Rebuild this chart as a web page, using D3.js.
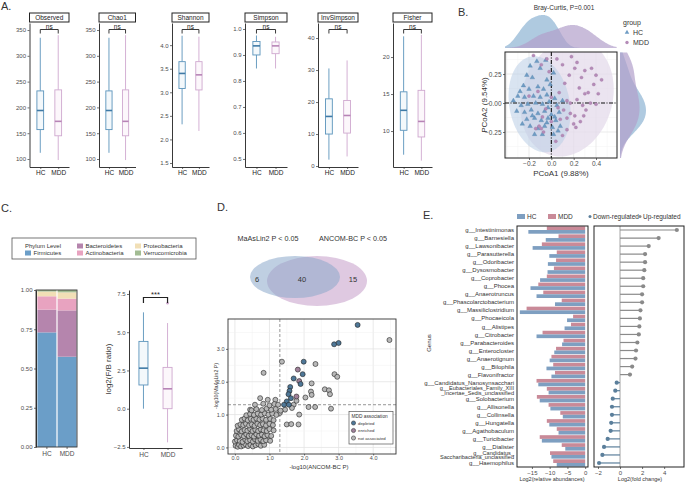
<!DOCTYPE html>
<html>
<head>
<meta charset="utf-8">
<script src="https://cdn.jsdelivr.net/npm/d3@7"></script>
<style>
  body { margin: 0; background: #fff; }
  svg { display: block; font-family: "Liberation Sans", Arial, sans-serif; }
</style>
</head>
<body>
<svg id="fig" width="685" height="484"></svg>
<script>
// ---------------- data ----------------
const groups = ['HC', 'MDD'];

// A. alpha diversity: [lower whisker, Q1, median, Q3, upper whisker]
const alphaNames = ['Observed', 'Chao1', 'Shannon', 'Simpson', 'InvSimpson', 'Fisher'];
const alphaHC = [
    [112, 157, 194, 232, 335],
    [112, 157, 194, 232, 335],
    [2.32, 3.08, 3.4, 3.65, 4.2],
    [0.848, 0.9, 0.935, 0.952, 0.975],
    [2, 10, 15.5, 21, 30.5],
    [6.8, 10.1, 12.8, 15.3, 22.8]
];
const alphaMDD = [
    [98, 145, 173, 234, 340],
    [98, 145, 173, 234, 340],
    [2.18, 3.05, 3.37, 3.65, 4.18],
    [0.848, 0.905, 0.935, 0.95, 0.97],
    [3, 10.3, 15.8, 20.5, 33],
    [6, 9.2, 11.3, 15.5, 23]
];
const alphaTicks = [
    [100, 150, 200, 250, 300, 350],
    [100, 150, 200, 250, 300, 350],
    [1.5, 2.0, 2.5, 3.0, 3.5, 4.0],
    [0.5, 0.6, 0.7, 0.8, 0.9, 1.0],
    [0, 10, 20, 30, 40],
    [10, 15, 20]
];
const alphaTest = ['ns', 'ns', 'ns', 'ns', 'ns', 'ns'];

// B. PCoA on Bray-Curtis
const pcoaHC = [
    [-0.13,0.36],[-0.05,0.37],[-0.19,0.32],[-0.10,0.30],[-0.22,0.24],[-0.17,0.22],[-0.04,0.20],
    [-0.25,0.15],[-0.28,0.10],[-0.20,0.12],[-0.12,0.14],[-0.07,0.12],[-0.01,0.16],[0.02,0.26],
    [-0.30,0.06],[-0.24,0.05],[-0.16,0.06],[-0.10,0.05],[-0.04,0.07],[0.03,0.04],[-0.27,-0.02],
    [-0.21,-0.01],[-0.14,0.00],[-0.08,-0.01],[-0.02,0.01],[0.05,-0.02],[-0.31,-0.07],[-0.24,-0.08],
    [-0.18,-0.06],[-0.12,-0.09],[-0.06,-0.07],[0.00,-0.10],[-0.22,-0.14],[-0.15,-0.13],[-0.09,-0.15],
    [-0.03,-0.13],[0.04,-0.15],[-0.19,-0.20],[-0.12,-0.22],[-0.06,-0.20],[0.01,-0.21],[0.06,-0.24],
    [-0.15,-0.27],[-0.08,-0.27],[0.02,-0.27],[0.08,-0.20],[0.10,0.02],[-0.34,0.02],[-0.03,-0.04],[0.07,-0.08],
    [-0.26,-0.18],[-0.04,-0.17],[0.03,-0.12],[-0.17,-0.11]
];
const pcoaMDD = [
    [-0.16,0.41],[-0.04,0.38],[0.05,0.38],[0.23,0.35],[0.21,0.30],[0.45,0.20],[0.33,0.09],[0.30,0.08],
    [0.42,0.08],[0.23,0.03],[0.14,0.02],[0.17,0.00],[0.35,0.00],[0.40,-0.01],[0.28,-0.02],[0.11,-0.06],
    [0.17,-0.09],[0.21,-0.11],[0.29,-0.11],[0.14,-0.13],[0.08,-0.14],[0.20,-0.18],[0.22,-0.21],[0.14,-0.23],
    [0.10,-0.28],[0.04,-0.33],[-0.11,-0.20],[-0.09,-0.22],[-0.14,-0.22],[-0.07,-0.25],[0.00,-0.16],
    [-0.05,-0.05],[0.07,0.09],[0.12,0.17],[-0.02,0.27],[0.25,0.13],[0.38,0.16],[0.31,-0.06],[-0.20,0.06],
    [-0.12,0.10],[0.00,0.05],[0.16,0.24],[-0.08,-0.12],[0.06,-0.04],[0.26,-0.16],
    [0.10,0.33],[0.30,0.28],[0.18,0.40],[0.36,0.30],[0.27,0.22],[-0.09,0.33],[0.40,0.24]
];
const pcoaTicksX = [-0.2, 0, 0.2, 0.4];
const pcoaTicksY = [-0.25, 0, 0.25];

// C. phylum composition and F/B ratio
const phyla = ['Firmicutes', 'Bacteroidetes', 'Actinobacteria', 'Proteobacteria', 'Verrucomicrobia'];
const phylaHC = [0.73, 0.145, 0.085, 0.03, 0.01];
const phylaMDD = [0.575, 0.295, 0.075, 0.04, 0.015];
const phylaTicks = [0, 0.25, 0.5, 0.75, 1];
const fbHC = [0.0, 1.55, 2.65, 4.4, 6.3];
const fbMDD = [-2.2, 0.0, 1.3, 2.7, 5.6];
const fbOutMDD = [6.9];
const fbTicks = [-2.5, 0, 2.5, 5, 7.5];

// D. MaAsLin2 vs ANCOM-BC
const vennLabels = ['MaAsLin2 P < 0.05', 'ANCOM-BC P < 0.05'];
const vennCounts = [6, 40, 15];
const dDepleted = [[3.55,3.73],[2.87,3.14],[3.0,3.18],[1.99,2.61],[1.96,2.23],[1.70,2.10],[1.90,1.93],
    [1.60,1.84],[1.58,1.72],[1.55,1.62],[1.62,1.50],[1.50,1.40],[1.42,1.30],[1.56,1.30]];
const dEnriched = [[1.82,2.37],[1.86,2.02],[1.78,1.55]];
const dNotAssoc = [
    [4.47,3.27],[1.36,2.61],[2.33,2.54],[0.83,2.27],[2.22,1.95],[2.88,2.23],[2.96,2.15],[2.60,1.77],
    [2.72,1.74],[2.75,1.62],[2.20,1.70],[2.22,1.60],[2.04,1.52],[0.73,1.50],[0.95,1.45],[1.17,1.45],
    [2.13,1.23],[2.32,1.23],[2.78,1.18],[1.86,1.00],[1.84,0.70],[1.50,0.70],[1.63,0.71],[0.97,0.30],
    [1.70,1.30],[1.78,1.42],[1.65,1.20],[1.45,1.15],[1.30,1.05],[0.44,1.15],
    [0.02,0.05],[0.08,0.02],[0.12,0.08],[0.18,0.03],[0.25,0.06],[0.30,0.10],[0.38,0.04],[0.45,0.08],
    [0.52,0.03],[0.60,0.07],[0.68,0.10],[0.75,0.05],[0.85,0.08],
    [0.00,0.18],[0.06,0.22],[0.14,0.20],[0.22,0.17],[0.30,0.24],[0.36,0.19],[0.44,0.22],[0.52,0.18],
    [0.58,0.25],[0.66,0.20],[0.74,0.24],[0.82,0.19],[0.90,0.22],[1.02,0.20],
    [0.03,0.36],[0.10,0.33],[0.18,0.38],[0.26,0.34],[0.33,0.40],[0.40,0.35],[0.48,0.37],[0.55,0.33],
    [0.62,0.40],[0.70,0.36],[0.78,0.39],[0.86,0.34],[0.94,0.38],[1.05,0.35],
    [0.05,0.50],[0.12,0.55],[0.20,0.49],[0.28,0.53],[0.36,0.51],[0.44,0.56],[0.51,0.50],[0.59,0.54],
    [0.67,0.50],[0.75,0.55],[0.83,0.52],[0.92,0.50],[1.00,0.56],[1.12,0.52],
    [0.08,0.66],[0.16,0.70],[0.24,0.68],[0.32,0.72],[0.41,0.67],[0.49,0.70],[0.57,0.66],[0.65,0.72],
    [0.73,0.68],[0.81,0.71],[0.90,0.67],[1.00,0.72],[1.10,0.68],
    [0.20,0.84],[0.28,0.88],[0.37,0.83],[0.46,0.87],[0.54,0.84],[0.62,0.88],[0.71,0.85],[0.80,0.88],
    [0.90,0.84],[1.02,0.87],[1.12,0.83],
    [0.33,0.98],[0.44,1.02],[0.55,0.99],[0.66,1.03],[0.76,1.00],[0.86,1.04],[0.97,1.00],[1.08,1.03],[1.20,0.99],
    [0.48,1.13],[0.62,1.17],[0.78,1.14],[0.92,1.18],[1.05,1.15],[1.18,1.17],[1.32,1.12],
    [0.58,1.30],[0.82,1.33],[1.00,1.28],[1.14,1.32],[1.25,1.30]
];
const dTicks = [0, 1, 2, 3, 4];
const dTicksY = [0, 1, 2, 3];
const dCut = 1.3;

// E. differential genera
const genera = [
    'g__Intestinimonas', 'g__Barnesiella', 'g__Lawsonibacter', 'g__Parasutterella', 'g__Odoribacter',
    'g__Dysosmobacter', 'g__Coprobacter', 'g__Phocea', 'g__Anaerotruncus', 'g__Phascolarctobacterium',
    'g__Massiliclostridium', 'g__Phocaeicola', 'g__Alistipes', 'g__Citrobacter', 'g__Parabacteroides',
    'g__Enterocloster', 'g__Anaerotignum', 'g__Bilophila', 'g__Flavonifractor', 'g__Candidatus_Nanosynsacchari',
    'g__Eubacteriales_Family_XIII\n_Incertae_Sedis_unclassified', 'g__Solobacterium', 'g__Allisonella',
    'g__Collinsella', 'g__Hungatella', 'g__Agathobaculum', 'g__Turicibacter', 'g__Dialister',
    'g__Candidatus_\nSaccharibacteria_unclassified', 'g__Haemophilus'
];
const abundHC = [-16.0, -11.1, -14.8, -10.1, -10.5, -10.6, -12.7, -15.4, -13.7, -8.5, -18.4, -5.1, -5.8, -13.7,
    -6.5, -8.7, -10.0, -10.9, -9.5, -13.2, -10.3, -12.8, -9.8, -6.3, -10.1, -7.5, -12.2, -5.6, -9.5, -8.0];
const abundMDD = [-10.8, -7.5, -12.2, -8.0, -8.2, -8.8, -10.8, -13.2, -11.8, -6.6, -16.5, -3.4, -4.0, -12.0,
    -6.1, -8.2, -9.5, -9.0, -8.5, -13.7, -10.8, -13.6, -10.3, -7.0, -10.8, -8.0, -12.8, -6.6, -9.9, -9.0];
const log2fc = [5.15, 3.5, 2.6, 2.27, 2.27, 2.2, 2.1, 2.1, 2.0, 2.0, 1.85, 1.8, 1.75, 1.7, 1.57, 1.45, 1.4, 1.1, 0.9,
    -0.3, -0.43, -0.66, -0.73, -0.73, -0.8, -0.85, -1.12, -1.45, -1.6, -1.9];

// ---------------- drawing ----------------
const svg = d3.select('#fig');
const TXT = '#333', TICK = '#4d4d4d';
const FONT = '"Liberation Sans", Arial, sans-serif';
const col = {
    hcLine: '#5a93bb', hcMed: '#3f7aa6', hcFill: '#f3f8fb',
    mddLine: '#cfa8cf', mddMed: '#b784b6', mddFill: '#fcf7fb'
};

svg.append('rect').attr('width', 685).attr('height', 484).attr('fill', '#fff');

function text(x, y, s, size, opt = {}) {
    const t = svg.append('text')
        .attr('x', x).attr('y', y)
        .attr('font-size', size)
        .attr('fill', opt.fill || TXT)
        .attr('text-anchor', opt.anchor || 'start')
        .text(s);
    if (opt.rotate) t.attr('transform', `rotate(-90, ${x}, ${y})`);
    if (opt.weight) t.attr('font-weight', opt.weight);
    return t;
}

function styleAxis(g, size) {
    g.attr('font-size', size).attr('font-family', FONT);
    g.selectAll('text').attr('fill', TICK);
    g.selectAll('.tick line').attr('stroke', '#333').attr('stroke-width', 0.7);
    g.select('.domain').attr('stroke', '#222').attr('stroke-width', 0.9);
}

function drawBox(g, y, cx, w, s, line, med, fill) {
    const [lo, q1, md, q3, hi] = s;
    g.append('line').attr('x1', cx).attr('x2', cx).attr('y1', y(hi)).attr('y2', y(q3))
        .attr('stroke', line).attr('stroke-width', 0.9);
    g.append('line').attr('x1', cx).attr('x2', cx).attr('y1', y(q1)).attr('y2', y(lo))
        .attr('stroke', line).attr('stroke-width', 0.9);
    g.append('rect').attr('x', cx - w / 2).attr('y', y(q3)).attr('width', w).attr('height', y(q1) - y(q3))
        .attr('fill', fill).attr('stroke', line).attr('stroke-width', 0.9);
    g.append('line').attr('x1', cx - w / 2).attr('x2', cx + w / 2).attr('y1', y(md)).attr('y2', y(md))
        .attr('stroke', med).attr('stroke-width', 1.6);
}

function bracket(x1, x2, yTop, yLeg, label, size, sw) {
    svg.append('path')
        .attr('d', `M${x1},${yLeg}V${yTop}H${x2}V${yLeg}`)
        .attr('fill', 'none').attr('stroke', '#222').attr('stroke-width', sw);
    text((x1 + x2) / 2, yTop - 1, label, size, { anchor: 'middle', fill: '#222' });
}

// ---- A. alpha diversity ----
text(1, 10, 'A.', 11);
const alphaLayout = [
    { l: 29.5, r: 69, d: [84.5, 363.6], f: 'd' },
    { l: 99, r: 135.5, d: [84.5, 363.6], f: 'd' },
    { l: 172, r: 209, d: [1.415, 4.47], f: '.1f' },
    { l: 245, r: 287, d: [0.469, 1.023], f: '.1f' },
    { l: 318, r: 358, d: [-0.3, 44.7], f: 'd' },
    { l: 393, r: 432, d: [5.14, 24.6], f: 'd' }
];
alphaNames.forEach((name, i) => {
    const L = alphaLayout[i];
    const y = d3.scaleLinear().domain(L.d).range([167, 23]);
    const x = d3.scaleLinear().domain([0.4, 2.6]).range([L.l, L.r]);
    const bw = x(1.375) - x(1);
    const g = svg.append('g');

    svg.append('rect').attr('x', L.l).attr('y', 13).attr('width', L.r - L.l).attr('height', 9)
        .attr('fill', '#fff').attr('stroke', '#222').attr('stroke-width', 1);
    text((L.l + L.r) / 2, 20.3, name, 6.5, { anchor: 'middle', fill: '#222' });

    drawBox(g, y, x(1), bw, alphaHC[i], col.hcLine, col.hcMed, col.hcFill);
    drawBox(g, y, x(2), bw, alphaMDD[i], col.mddLine, col.mddMed, col.mddFill);

    const ya = svg.append('g').attr('transform', `translate(${L.l},0)`)
        .call(d3.axisLeft(y).tickValues(alphaTicks[i]).tickFormat(d3.format(L.f))
            .tickSize(2).tickPadding(1.5).tickSizeOuter(0));
    styleAxis(ya, 6);
    const xa = svg.append('g').attr('transform', 'translate(0,167)')
        .call(d3.axisBottom(x).tickValues([1, 2]).tickFormat((d, k) => groups[k])
            .tickSize(2).tickPadding(1.5).tickSizeOuter(0));
    styleAxis(xa, 6.5);
    xa.selectAll('text').attr('fill', '#222');

    bracket(x(1), x(2), 29.5, 33.5, alphaTest[i], 6.5, 0.9);
});

// ---- B. PCoA ----
text(458, 16, 'B.', 11);
const bx = d3.scaleLinear().domain([-0.415, 0.588]).range([505, 617]);
const by = d3.scaleLinear().domain([-0.474, 0.44]).range([158, 52]);
const pc = { hc: '#6f9cc4', mdd: '#b58cb8', hcEll: '#b9cde5', mddEll: '#e4dbeb', hcDen: '#8db3d3', mddDen: '#b29fcb' };

svg.append('clipPath').attr('id', 'clipB').append('rect')
    .attr('x', 505).attr('y', 52).attr('width', 112).attr('height', 106);
const gB = svg.append('g').attr('clip-path', 'url(#clipB)');
gB.append('rect').attr('x', 505).attr('y', 52).attr('width', 112).attr('height', 106).attr('fill', '#fff');
[-0.3, -0.1, 0.1, 0.3, 0.5].forEach(v => gB.append('line').attr('x1', bx(v)).attr('x2', bx(v))
    .attr('y1', 52).attr('y2', 158).attr('stroke', '#f2f2f2').attr('stroke-width', 0.5));
[-0.375, -0.125, 0.125, 0.375].forEach(v => gB.append('line').attr('y1', by(v)).attr('y2', by(v))
    .attr('x1', 505).attr('x2', 617).attr('stroke', '#f2f2f2').attr('stroke-width', 0.5));
[-0.4].concat(pcoaTicksX).forEach(v => gB.append('line').attr('x1', bx(v)).attr('x2', bx(v))
    .attr('y1', 52).attr('y2', 158).attr('stroke', '#e6e6e6').attr('stroke-width', 0.8));
pcoaTicksY.forEach(v => gB.append('line').attr('y1', by(v)).attr('y2', by(v))
    .attr('x1', 505).attr('x2', 617).attr('stroke', '#e6e6e6').attr('stroke-width', 0.8));

function ellipse(pts, k) {
    const mx = d3.mean(pts, d => d[0]), my = d3.mean(pts, d => d[1]);
    const n = pts.length;
    let sxx = 0, syy = 0, sxy = 0;
    pts.forEach(([a, b]) => { sxx += (a - mx) ** 2; syy += (b - my) ** 2; sxy += (a - mx) * (b - my); });
    sxx /= n - 1; syy /= n - 1; sxy /= n - 1;
    const tr = sxx + syy, det = sxx * syy - sxy * sxy;
    const disc = Math.sqrt(Math.max(tr * tr / 4 - det, 0));
    const l1 = tr / 2 + disc, l2 = tr / 2 - disc;
    let v1 = Math.abs(sxy) < 1e-12 ? (sxx >= syy ? [1, 0] : [0, 1]) : [sxy, l1 - sxx];
    const nv = Math.hypot(v1[0], v1[1]);
    v1 = [v1[0] / nv, v1[1] / nv];
    const v2 = [-v1[1], v1[0]];
    return d3.range(0, 2 * Math.PI + 0.05, Math.PI / 60).map(t => {
        const a = k * Math.sqrt(l1) * Math.cos(t), b = k * Math.sqrt(l2) * Math.sin(t);
        return [mx + a * v1[0] + b * v2[0], my + a * v1[1] + b * v2[1]];
    });
}
const ellLine = d3.line().x(d => bx(d[0])).y(d => by(d[1]));
gB.append('path').attr('d', ellLine(ellipse(pcoaMDD, 2.45))).attr('fill', pc.mddEll).attr('fill-opacity', 0.75);
gB.append('path').attr('d', ellLine(ellipse(pcoaHC, 2.45))).attr('fill', pc.hcEll).attr('fill-opacity', 0.55);

const dash = '4,1.5,1,1.5';
gB.append('line').attr('x1', bx(0)).attr('x2', bx(0)).attr('y1', 52).attr('y2', 158)
    .attr('stroke', '#111').attr('stroke-width', 1.1).attr('stroke-dasharray', dash);
gB.append('line').attr('y1', by(0)).attr('y2', by(0)).attr('x1', 505).attr('x2', 617)
    .attr('stroke', '#111').attr('stroke-width', 1.1).attr('stroke-dasharray', dash);

const tri = d3.symbol().type(d3.symbolTriangle).size(9);
gB.selectAll('.hcpt').data(pcoaHC).enter().append('path')
    .attr('transform', d => `translate(${bx(d[0])},${by(d[1])})`)
    .attr('d', tri).attr('fill', pc.hc).attr('stroke', '#4f7fa8').attr('stroke-width', 0.3);
gB.selectAll('.mddpt').data(pcoaMDD).enter().append('circle')
    .attr('cx', d => bx(d[0])).attr('cy', d => by(d[1])).attr('r', 1.6)
    .attr('fill', pc.mdd).attr('stroke', '#9d6fa0').attr('stroke-width', 0.3);
svg.append('rect').attr('x', 505).attr('y', 52).attr('width', 112).attr('height', 106)
    .attr('fill', 'none').attr('stroke', '#222').attr('stroke-width', 1);

const bxa = svg.append('g').attr('transform', 'translate(0,158)')
    .call(d3.axisBottom(bx).tickValues(pcoaTicksX).tickFormat(d3.format('.1f')).tickSize(2).tickPadding(1.5).tickSizeOuter(0));
styleAxis(bxa, 6.5);
bxa.select('.domain').remove();
const bya = svg.append('g').attr('transform', 'translate(505,0)')
    .call(d3.axisLeft(by).tickValues(pcoaTicksY).tickFormat(d3.format('.2f')).tickSize(2).tickPadding(1.5).tickSizeOuter(0));
styleAxis(bya, 6.5);
bya.select('.domain').remove();
text(561, 176, 'PCoA1 (9.88%)', 8, { anchor: 'middle' });
text(487, 105, 'PCoA2 (9.54%)', 8, { anchor: 'middle', rotate: true });
text(564, 10, 'Bray-Curtis, P=0.001', 6.5, { anchor: 'middle' });

// marginal densities (Gaussian KDE, Silverman bandwidth widened a little)
function kde(values, grid, adjust) {
    const sd = d3.deviation(values);
    const iqr = d3.quantile(values, 0.75) - d3.quantile(values, 0.25);
    const h = adjust * 0.9 * Math.min(sd, iqr / 1.34) * Math.pow(values.length, -0.2);
    return grid.map(g => [g, d3.mean(values, v => Math.exp(-0.5 * ((g - v) / h) ** 2)) / (h * Math.sqrt(2 * Math.PI))]);
}
const gridX = d3.range(-0.415, 0.59, 0.01);
const gridY = d3.range(-0.474, 0.445, 0.01);
const denTop = [kde(pcoaHC.map(d => d[0]), gridX, 1.3), kde(pcoaMDD.map(d => d[0]), gridX, 1.3)];
const denRight = [kde(pcoaHC.map(d => d[1]), gridY, 1.3), kde(pcoaMDD.map(d => d[1]), gridY, 1.3)];
const maxTop = d3.max(denTop.flat(), d => d[1]);
const maxRight = d3.max(denRight.flat(), d => d[1]);
const tdy = d3.scaleLinear().domain([0, maxTop]).range([48, 15]);
const rdx = d3.scaleLinear().domain([0, maxRight]).range([620, 646]);
const topArea = d3.area().x(d => bx(d[0])).y0(48).y1(d => tdy(d[1])).curve(d3.curveBasis);
const rightArea = d3.area().y(d => by(d[0])).x0(620).x1(d => rdx(d[1])).curve(d3.curveBasis);
[pc.hcDen, pc.mddDen].forEach((c, i) => {
    svg.append('path').attr('d', topArea(denTop[i])).attr('fill', c).attr('fill-opacity', 0.7);
    svg.append('path').attr('d', rightArea(denRight[i])).attr('fill', c).attr('fill-opacity', 0.7);
});

// legend
text(623, 25, 'group', 7);
svg.append('path').attr('transform', 'translate(627,32.5)').attr('d', tri).attr('fill', pc.hc);
text(633, 35, 'HC', 7);
svg.append('circle').attr('cx', 627).attr('cy', 42.5).attr('r', 1.7).attr('fill', pc.mdd);
text(633, 45, 'MDD', 7);

// ---- C. phylum composition ----
text(1, 212, 'C.', 11);
const phylaColors = ['#6b9ec8', '#b585ad', '#e8a3c0', '#f1dfb6', '#a2bc93'];
svg.append('rect').attr('x', 12).attr('y', 238).attr('width', 184).attr('height', 21)
    .attr('fill', '#fff').attr('stroke', '#555').attr('stroke-width', 0.8);
const legCells = [{ t: 'Phylum Level' }].concat(phyla.map((p, i) => ({ t: p, c: phylaColors[i] })));
const cellX = [25, 77, 135], cellY = [246, 253];
legCells.forEach((c, i) => {
    const cx = cellX[Math.floor(i / 2)], cy = cellY[i % 2];
    if (c.c) {
        svg.append('rect').attr('x', cx).attr('y', cy - 2.5).attr('width', 6).attr('height', 5).attr('fill', c.c);
        text(cx + 8.5, cy + 2.2, c.t, 6);
    } else {
        text(cx, cy + 2.2, c.t, 6);
    }
});

const cy = d3.scaleLinear().domain([0, 1]).range([447, 290]);
const cx = d3.scaleBand().domain(groups).range([37, 77]).paddingInner(0.06).paddingOuter(0.02);
const stackRows = groups.map((g, gi) => {
    const row = { group: g };
    phyla.forEach((p, pi) => { row[p] = (gi === 0 ? phylaHC : phylaMDD)[pi]; });
    return row;
});
const stacked = d3.stack().keys(phyla)(stackRows);
stacked.forEach((layer, li) => {
    svg.selectAll(null).data(layer).enter().append('rect')
        .attr('x', d => cx(d.data.group)).attr('width', cx.bandwidth())
        .attr('y', d => cy(d[1])).attr('height', d => cy(d[0]) - cy(d[1]))
        .attr('fill', phylaColors[li]);
});
svg.append('rect').attr('x', 36).attr('y', 290).attr('width', 41).attr('height', 157)
    .attr('fill', 'none').attr('stroke', '#333').attr('stroke-width', 0.9);
const cya = svg.append('g').attr('transform', 'translate(36,0)')
    .call(d3.axisLeft(cy).tickValues(phylaTicks).tickFormat(d3.format('.2f')).tickSize(2).tickPadding(1.5).tickSizeOuter(0));
styleAxis(cya, 6);
const cxa = svg.append('g').attr('transform', 'translate(0,447)')
    .call(d3.axisBottom(cx).tickSize(2).tickPadding(2).tickSizeOuter(0));
styleAxis(cxa, 6.5);
cxa.select('.domain').remove();

// F/B ratio
const fy = d3.scaleLinear().domain([-2.57, 7.76]).range([448, 290]);
const fx = d3.scaleLinear().domain([0.4, 2.6]).range([129, 182]);
const gF = svg.append('g');
drawBox(gF, fy, fx(1), fx(1.375) - fx(1), fbHC, col.hcLine, col.hcMed, col.hcFill);
drawBox(gF, fy, fx(2), fx(1.375) - fx(1), fbMDD, col.mddLine, col.mddMed, col.mddFill);
gF.selectAll(null).data(fbOutMDD).enter().append('circle')
    .attr('cx', fx(2)).attr('cy', d => fy(d)).attr('r', 1.3).attr('fill', col.mddLine);
const fya = svg.append('g').attr('transform', 'translate(129,0)')
    .call(d3.axisLeft(fy).tickValues(fbTicks).tickFormat(d3.format('.1f')).tickSize(2).tickPadding(1.5).tickSizeOuter(0));
styleAxis(fya, 6);
const fxa = svg.append('g').attr('transform', 'translate(0,448)')
    .call(d3.axisBottom(fx).tickValues([1, 2]).tickFormat((d, k) => groups[k]).tickSize(2).tickPadding(2).tickSizeOuter(0));
styleAxis(fxa, 6.5);
text(111, 369, 'log2(F/B ratio)', 8, { anchor: 'middle', rotate: true });
bracket(fx(1), fx(2), 297.5, 303, '***', 7.5, 1.2);

// ---- D. method comparison ----
text(217, 211, 'D.', 11);
text(268, 241, vennLabels[0], 7.2, { anchor: 'middle' });
text(353, 241, vennLabels[1], 7.2, { anchor: 'middle' });
svg.append('ellipse').attr('cx', 317).attr('cy', 281).attr('rx', 50).attr('ry', 25)
    .attr('fill', '#d9bfdc').attr('fill-opacity', 0.85);
svg.append('ellipse').attr('cx', 295).attr('cy', 277).attr('rx', 45).attr('ry', 21)
    .attr('fill', '#8aa8cb').attr('fill-opacity', 0.55);
text(257, 282, vennCounts[0], 7.5, { anchor: 'middle' });
text(302, 282, vennCounts[1], 7.5, { anchor: 'middle' });
text(353, 282, vennCounts[2], 7.5, { anchor: 'middle' });

const dx = d3.scaleLinear().domain([-0.2, 4.66]).range([228, 396]);
const dy = d3.scaleLinear().domain([-0.2, 3.91]).range([454, 319]);
svg.append('clipPath').attr('id', 'clipD').append('rect')
    .attr('x', 228).attr('y', 319).attr('width', 168).attr('height', 135);
const gD = svg.append('g').attr('clip-path', 'url(#clipD)');
d3.range(0, 4.6, 0.5).forEach(v => gD.append('line').attr('x1', dx(v)).attr('x2', dx(v)).attr('y1', 319).attr('y2', 454)
    .attr('stroke', Number.isInteger(v) ? '#e3e3e3' : '#f1f1f1').attr('stroke-width', Number.isInteger(v) ? 0.8 : 0.5));
d3.range(0, 3.9, 0.5).forEach(v => gD.append('line').attr('y1', dy(v)).attr('y2', dy(v)).attr('x1', 228).attr('x2', 396)
    .attr('stroke', Number.isInteger(v) ? '#e3e3e3' : '#f1f1f1').attr('stroke-width', Number.isInteger(v) ? 0.8 : 0.5));
gD.append('line').attr('x1', dx(dCut)).attr('x2', dx(dCut)).attr('y1', 319).attr('y2', 454)
    .attr('stroke', '#8a8a8a').attr('stroke-width', 0.9).attr('stroke-dasharray', '3,2');
gD.append('line').attr('y1', dy(dCut)).attr('y2', dy(dCut)).attr('x1', 228).attr('x2', 396)
    .attr('stroke', '#8a8a8a').attr('stroke-width', 0.9).attr('stroke-dasharray', '3,2');
const dCols = { depleted: '#4e7797', enriched: '#a0819a', not: '#b8b8b8' };
[[dNotAssoc, dCols.not], [dEnriched, dCols.enriched], [dDepleted, dCols.depleted]].forEach(([pts, c]) => {
    gD.selectAll(null).data(pts).enter().append('circle')
        .attr('cx', d => dx(d[0])).attr('cy', d => dy(d[1])).attr('r', 2.5)
        .attr('fill', c).attr('stroke', '#222').attr('stroke-width', 0.6);
});
svg.append('rect').attr('x', 228).attr('y', 319).attr('width', 168).attr('height', 135)
    .attr('fill', 'none').attr('stroke', '#333').attr('stroke-width', 0.9);
const dxa = svg.append('g').attr('transform', 'translate(0,454)')
    .call(d3.axisBottom(dx).tickValues(dTicks).tickSize(1.5).tickPadding(1).tickSizeOuter(0));
styleAxis(dxa, 5.5);
dxa.select('.domain').remove();
const dya = svg.append('g').attr('transform', 'translate(228,0)')
    .call(d3.axisLeft(dy).tickValues(dTicksY).tickSize(2).tickPadding(1.5).tickSizeOuter(0));
styleAxis(dya, 5.5);
dya.select('.domain').remove();
text(319, 468.5, '-log10(ANCOM-BC P)', 6, { anchor: 'middle' });
text(218, 386, '-log10(MaAsLin2 P)', 5.2, { anchor: 'middle', rotate: true });

// legend
svg.append('rect').attr('x', 349).attr('y', 411.5).attr('width', 44).attr('height', 32.5)
    .attr('fill', '#fff').attr('stroke', '#555').attr('stroke-width', 0.7);
text(351.5, 417.5, 'MDD association', 4.8);
[['depleted', dCols.depleted], ['enriched', dCols.enriched], ['not associated', dCols.not]].forEach(([t, c], i) => {
    svg.append('circle').attr('cx', 353.5).attr('cy', 423 + i * 7.5).attr('r', 2.1)
        .attr('fill', c).attr('stroke', '#222').attr('stroke-width', 0.5);
    text(358, 424.7 + i * 7.5, t, 4.3);
});

// ---- E. differential genera ----
text(423, 219, 'E.', 11);
const eCol = { hc: '#7e9fc1', mdd: '#c98a98', up: '#8a8a8a', down: '#5b7f9b' };
const ey = d3.scaleBand().domain(genera).range([226, 467]).paddingInner(0.08).paddingOuter(0.04);
const eyi = d3.scaleBand().domain(['MDD', 'HC']).range([0, ey.bandwidth()]);
const ex = d3.scaleLinear().domain([-19.2, 0.8]).range([517, 588]);
genera.forEach((g, i) => {
    svg.append('rect').attr('x', ex(abundMDD[i])).attr('y', ey(g) + eyi('MDD'))
        .attr('width', ex(0) - ex(abundMDD[i])).attr('height', eyi.bandwidth()).attr('fill', eCol.mdd);
    svg.append('rect').attr('x', ex(abundHC[i])).attr('y', ey(g) + eyi('HC'))
        .attr('width', ex(0) - ex(abundHC[i])).attr('height', eyi.bandwidth()).attr('fill', eCol.hc);
});
svg.append('rect').attr('x', 517).attr('y', 226).attr('width', 71).attr('height', 241)
    .attr('fill', 'none').attr('stroke', '#222').attr('stroke-width', 1);
const exa = svg.append('g').attr('transform', 'translate(0,467)')
    .call(d3.axisBottom(ex).tickValues([-15, -10, -5, 0]).tickSize(2).tickPadding(1.5).tickSizeOuter(0));
styleAxis(exa, 6);
exa.select('.domain').remove();
text(552, 481, 'Log2(relative abundances)', 5.5, { anchor: 'middle' });

// genus labels
genera.forEach(g => {
    const lines = g.split('\n');
    const mid = ey(g) + ey.bandwidth() / 2;
    const t = svg.append('text').attr('text-anchor', 'end').attr('font-size', lines.length > 1 ? 5.6 : 6).attr('fill', TXT);
    lines.forEach((ln, j) => t.append('tspan').attr('x', 514)
        .attr('y', mid + 2.1 + (j - (lines.length - 1) / 2) * 4.6).text(ln));
});
text(431, 343, 'Genus', 6, { anchor: 'middle', rotate: true });

// lollipop
const lx = d3.scaleLinear().domain([-2.36, 5.8]).range([594, 684]);
svg.append('line').attr('x1', lx(0)).attr('x2', lx(0)).attr('y1', 226).attr('y2', 467)
    .attr('stroke', '#9a9a9a').attr('stroke-width', 0.9);
genera.forEach((g, i) => {
    const c = log2fc[i] > 0 ? eCol.up : eCol.down;
    const yy = ey(g) + ey.bandwidth() / 2;
    svg.append('line').attr('x1', lx(0)).attr('x2', lx(log2fc[i])).attr('y1', yy).attr('y2', yy)
        .attr('stroke', c).attr('stroke-width', 1.2);
    svg.append('circle').attr('cx', lx(log2fc[i])).attr('cy', yy).attr('r', 2.1).attr('fill', c);
});
svg.append('rect').attr('x', 594).attr('y', 226).attr('width', 90).attr('height', 241)
    .attr('fill', 'none').attr('stroke', '#222').attr('stroke-width', 1);
const lxa = svg.append('g').attr('transform', 'translate(0,467)')
    .call(d3.axisBottom(lx).tickValues([-2, 0, 2, 4]).tickSize(2).tickPadding(1.5).tickSizeOuter(0));
styleAxis(lxa, 6);
lxa.select('.domain').remove();
text(640, 481, 'Log2(fold change)', 5.5, { anchor: 'middle' });

// legend E
svg.append('rect').attr('x', 517).attr('y', 214).attr('width', 8).attr('height', 5).attr('fill', eCol.hc);
text(527, 219, 'HC', 6.5);
svg.append('rect').attr('x', 548).attr('y', 214).attr('width', 8).attr('height', 5).attr('fill', eCol.mdd);
text(558, 219, 'MDD', 6.5);
svg.append('circle').attr('cx', 590).attr('cy', 216.5).attr('r', 1.5).attr('fill', eCol.down);
text(593, 219, 'Down-regulated', 6.5);
svg.append('circle').attr('cx', 640).attr('cy', 216.5).attr('r', 1.5).attr('fill', eCol.up);
text(643, 219, 'Up-regulated', 6.5);
</script>
</body>
</html>
